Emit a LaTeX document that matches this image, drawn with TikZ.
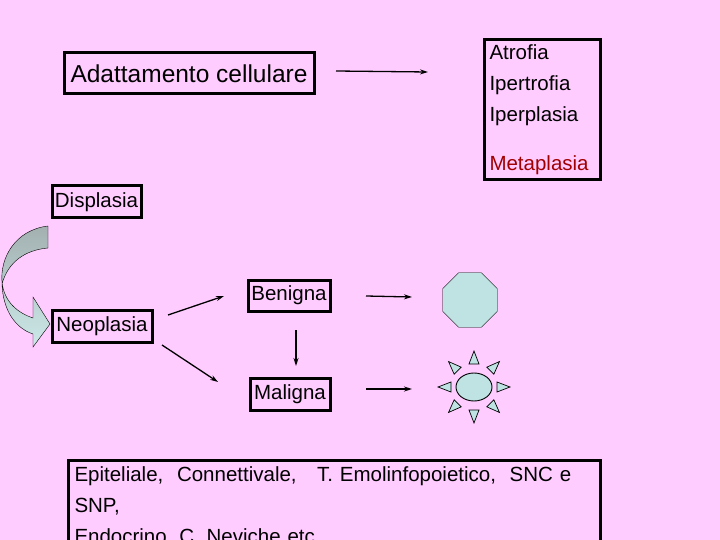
\documentclass[tikz,border=0pt]{standalone}
\usepackage{fontspec}
\setmainfont{Liberation Sans}
\usetikzlibrary{arrows.meta,shapes.geometric,calc}
\definecolor{bg}{HTML}{FFCCFF}
\definecolor{fillc}{HTML}{BFE3E3}
\definecolor{redt}{HTML}{A00000}
\begin{document}
\begin{tikzpicture}[x=1pt,y=-1pt,
  box/.style={draw,line width=3pt,inner sep=0pt,font=\fontsize{20.5}{24}\selectfont},
  arr/.style={-{Stealth[length=8pt,width=5pt]},line width=1.3pt}]
\fill[bg] (0,0) rectangle (720,540);
\useasboundingbox (0,0) rectangle (720,540);
\node[box,minimum width=250pt,minimum height=41pt,font=\fontsize{24.5}{28}\selectfont] (ad) at (189,73.5) {Adattamento cellulare};
\node[box,minimum width=116pt,minimum height=130pt,align=left,anchor=north west,text width=106pt,inner sep=5pt,font=\fontsize{20.5}{31}\selectfont] (at) at (483,38) {Atrofia\\Ipertrofia\\Iperplasia\\[18pt]\textcolor{redt}{Metaplasia}};
\node[box,minimum width=89pt,minimum height=32pt] (dis) at (96.5,202) {Displasia};
\node[box,minimum width=100pt,minimum height=32pt] (neo) at (102,326) {Neoplasia};
\node[box,minimum width=82pt,minimum height=31pt] (ben) at (289,295.5) {Benigna};
\node[box,minimum width=80pt,minimum height=32pt] (mal) at (290,394) {Maligna};
\node[box,minimum width=532pt,minimum height=56pt,align=left,anchor=north west,text width=520pt,inner sep=6pt,font=\fontsize{20.5}{31}\selectfont] (ep) at (67,459) {Epiteliale,\ \ Connettivale,\ \ \ T. Emolinfopoietico,\ \ SNC e SNP,\\Endocrino, C. Neviche etc.};
\coordinate (a1) at (336,71); \coordinate (a2) at (428,72);
\draw[arr] (a1) -- (a2);
\coordinate (b1) at (168,315); \coordinate (b2) at (224,296);
\draw[arr] (b1) -- (b2);
\coordinate (c1) at (162,345); \coordinate (c2) at (218,382);
\draw[arr] (c1) -- (c2);
\coordinate (d1) at (366,296); \coordinate (d2) at (412,297);
\draw[arr] (d1) -- (d2);
\coordinate (e1) at (296,330); \coordinate (e2) at (296,366);
\draw[arr] (e1) -- (e2);
\coordinate (f1) at (366,389); \coordinate (f2) at (412,389);
\draw[arr] (f1) -- (f2);
\node[regular polygon,regular polygon sides=8,draw,fill=fillc,minimum size=59pt,inner sep=0pt] (oct) at (470,300) {};
\node[ellipse,draw,fill=fillc,minimum width=36pt,minimum height=28pt,line width=0.9pt] (sun) at (474,387) {};
\foreach \a in {0,45,...,315}{
  \draw[fill=fillc,line width=0.7pt] ($(sun)+(\a:23pt)$) -- ($(sun)+(\a:23pt)+(\a+90:5pt)$) -- ($(sun)+(\a:36pt)$) -- ($(sun)+(\a:23pt)+(\a-90:5pt)$) -- cycle;
}
\shade[top color=fillc!40!gray!90,bottom color=fillc!80!white,draw=black,line width=0.4pt]
 (48,226) .. controls (15,230) and (0,258) .. (2,282) .. controls (4,302) and (18,313) .. (33,318)
 -- (33,297) -- (50,324) -- (33,347) -- (33,334) .. controls (15,328) and (3,310) .. (2,284)
 .. controls (8,262) and (25,250) .. (48,248) -- cycle;
\end{tikzpicture}
\end{document}
